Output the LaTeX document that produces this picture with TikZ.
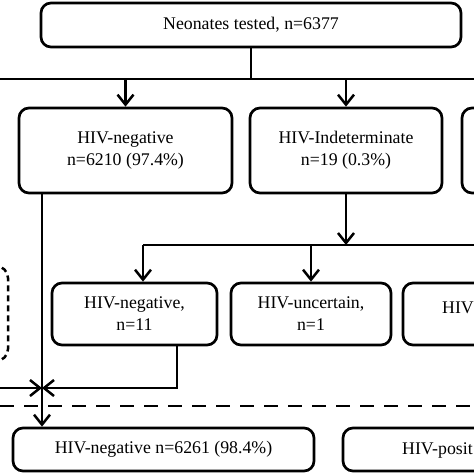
\documentclass[tikz,border=0pt]{standalone}
\usepackage{fontspec}
\setmainfont{Liberation Serif}
\usetikzlibrary{arrows.meta}

\tikzset{
  box/.style={draw, line width=2.7pt, rounded corners=10pt, align=center, inner sep=0pt,
    font=\fontsize{17.8}{22}\selectfont},
  boxlabel/.style={inner sep=0pt, font=\fontsize{17.8}{22}\selectfont},
  link/.style={line width=2.5pt},
  arr/.style={link, -{Straight Barb[length=10pt,width=16pt]}},
}

\begin{document}
\begin{tikzpicture}[x=1pt,y=-1pt]
	\useasboundingbox (0,0) rectangle (474,474);
	\clip (0,0) rectangle (474,474);

	% Boxes
	\node[box, minimum width=420pt, minimum height=44pt] (tested) at (251,25) {Neonates tested, n=6377};
	\node[box, minimum width=213pt, minimum height=85pt] (neg) at (125.5,150.5) {HIV-negative\\n=6210 (97.4\%)};
	\node[box, minimum width=192pt, minimum height=85pt] (indet) at (346,150.5) {HIV-Indeterminate\\n=19 (0.3\%)};
	\node[box, minimum width=200pt, minimum height=85pt] (pos) at (562,150.5) {};
	\node[box, minimum width=165pt, minimum height=62pt] (indneg) at (134.5,314) {HIV-negative,\\n=11};
	\node[box, minimum width=160pt, minimum height=62pt] (indunc) at (311,314) {HIV-uncertain,\\n=1};
	\node[box, minimum width=174pt, minimum height=62pt] (indpos) at (490,314) {};
	\node[boxlabel, anchor=base west] (indposlbl) at (442,313) {HIV};
	\node[box, minimum width=301pt, minimum height=43pt] (finneg) at (163.5,449.5) {HIV-negative n=6261 (98.4\%)};
	\node[box, minimum width=301pt, minimum height=43pt] (finpos) at (493.5,449.5) {};
	\node[boxlabel, anchor=base west] (finposlbl) at (402,454) {HIV-posit};

	% Split points
	\coordinate (bar) at (251,79);
	\coordinate (barL) at (0,79);
	\coordinate (barR) at (474,79);
	\coordinate (negout) at (42,193);
	\coordinate (split) at (346,245);
	\coordinate (splitL) at (143,245);
	\coordinate (splitR) at (474,245);
	\coordinate (indnegout) at (177,345);
	\coordinate (merge) at (42,388);
	\coordinate (mergeL) at (0,388);

	% Connectors
	\draw[link] (tested.south) -- (bar);
	\draw[link] (barL) -- (barR);
	\draw[arr] (neg.north |- bar) -- (neg.north);
	\draw[arr] (indet.north |- bar) -- (indet.north);
	\draw[arr] (negout) -- (negout |- finneg.north);
	\draw[arr] (indet.south) -- (split);
	\draw[link] (splitL) -- (splitR);
	\draw[arr] (splitL) -- (splitL |- indneg.north);
	\draw[arr] (indunc.north |- split) -- (indunc.north);
	\draw[arr] (indnegout) |- (merge);
	\draw[arr] (mergeL) -- (merge);

	% Dashed lines
	\draw[link, dash pattern=on 14pt off 10pt] (0,406) -- (474,406);
	\draw[link, dash pattern=on 6pt off 4pt, rounded corners=12pt] (-60,266) rectangle (8,361);
\end{tikzpicture}
\end{document}
